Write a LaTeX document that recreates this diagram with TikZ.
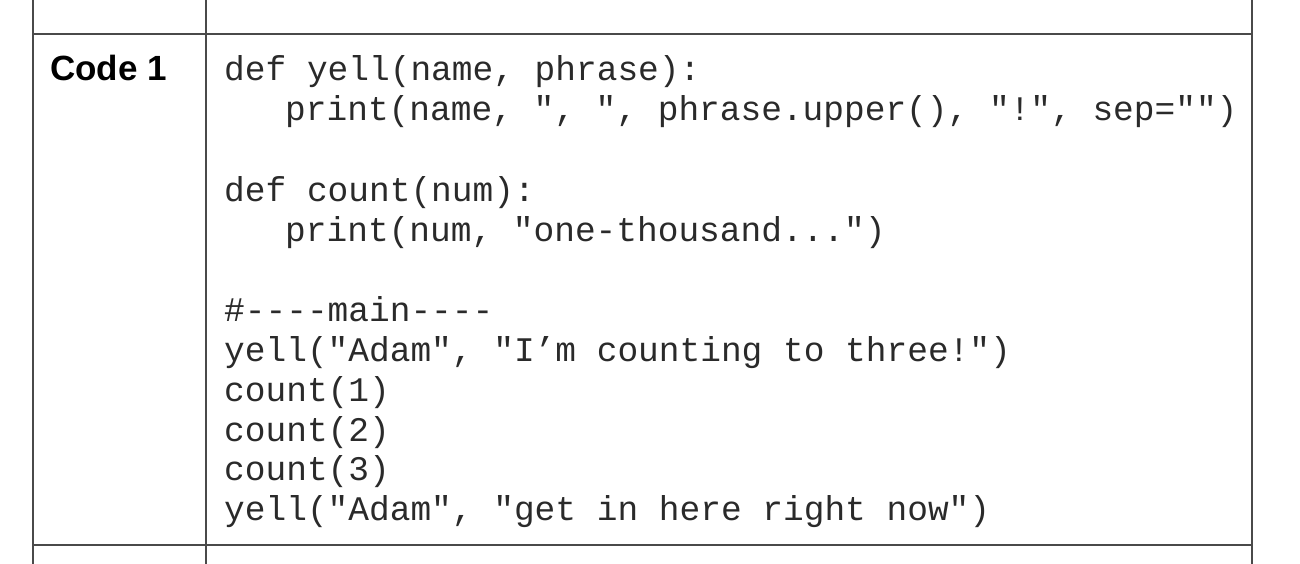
\documentclass[tikz,border=0pt]{standalone}
\usepackage{fontspec}
\setmainfont{Liberation Sans}
\setmonofont{Liberation Mono}
\usetikzlibrary{positioning}
\definecolor{rule}{HTML}{4A4A4A}
\definecolor{codeink}{HTML}{2A2A2A}
\tikzset{
  codeline/.style={anchor=base west,inner sep=0pt,text=codeink,font=\ttfamily\fontsize{34.5}{39.9}\selectfont},
  rowlabel/.style={anchor=base west,inner sep=0pt,font=\bfseries\fontsize{35}{40}\selectfont},
  gridline/.style={draw=rule,line width=2pt}
}
\begin{document}
\begin{tikzpicture}[x=1pt,y=-1pt]
      \useasboundingbox (0,0) rectangle (1300,564);
      % table rules
      \draw [gridline] (33,0) -- (33,564);
      \draw [gridline] (206,0) -- (206,564);
      \draw [gridline] (1252,0) -- (1252,564);
      \draw [gridline] (33,34.5) -- (1252,34.5);
      \draw [gridline] (33,545) -- (1252,545);

      \node [rowlabel] (label) at (50,81) {Code 1};

      \node [codeline] (l1) at (224,81) {def yell(name, phrase):};
      \node [codeline] (l2) at (285,121) {print(name, ", ", phrase.upper(), "!", sep="")};
      \node [codeline] (l3) at (224,201) {def count(num):};
      \node [codeline] (l4) at (285,241) {print(num, "one-thousand...")};
      \node [codeline] (l5) at (224,321) {\#----main----};
      \node [codeline] (l6) at (224,361) {yell("Adam", "I’m counting to three!")};
      \node [codeline] (l7) at (224,401) {count(1)};
      \node [codeline] (l8) at (224,441) {count(2)};
      \node [codeline] (l9) at (224,480) {count(3)};
      \node [codeline] (l10) at (224,520) {yell("Adam", "get in here right now")};
\end{tikzpicture}
\end{document}
